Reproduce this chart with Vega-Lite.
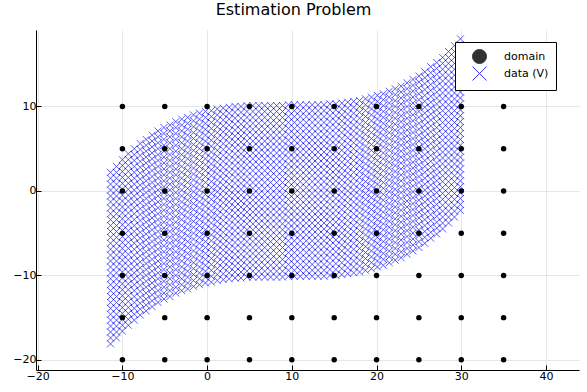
{
"$schema": "https://vega.github.io/schema/vega-lite/v6.json",
"autosize": "none",
"width": 543, "height": 340,
"padding": {"left": 36, "top": 30, "right": 8, "bottom": 22},
"title": {"text": "Estimation Problem", "fontSize": 16, "font": "DejaVu Sans", "fontWeight": "normal", "color": "black", "anchor": "middle", "frame": "group", "dx": -14, "baseline": "alphabetic", "offset": -1},
"datasets": {
"dom": [
{"x":-10,"y":-20},{"x":-5,"y":-20},{"x":0,"y":-20},{"x":5,"y":-20},{"x":10,"y":-20},{"x":15,"y":-20},{"x":20,"y":-20},{"x":25,"y":-20},{"x":30,"y":-20},{"x":35,"y":-20},
{"x":-10,"y":-15},{"x":-5,"y":-15},{"x":0,"y":-15},{"x":5,"y":-15},{"x":10,"y":-15},{"x":15,"y":-15},{"x":20,"y":-15},{"x":25,"y":-15},{"x":30,"y":-15},{"x":35,"y":-15},
{"x":-10,"y":-10},{"x":-5,"y":-10},{"x":0,"y":-10},{"x":5,"y":-10},{"x":10,"y":-10},{"x":15,"y":-10},{"x":20,"y":-10},{"x":25,"y":-10},{"x":30,"y":-10},{"x":35,"y":-10},
{"x":-10,"y":-5},{"x":-5,"y":-5},{"x":0,"y":-5},{"x":5,"y":-5},{"x":10,"y":-5},{"x":15,"y":-5},{"x":20,"y":-5},{"x":25,"y":-5},{"x":30,"y":-5},{"x":35,"y":-5},
{"x":-10,"y":0},{"x":-5,"y":0},{"x":0,"y":0},{"x":5,"y":0},{"x":10,"y":0},{"x":15,"y":0},{"x":20,"y":0},{"x":25,"y":0},{"x":30,"y":0},{"x":35,"y":0},
{"x":-10,"y":5},{"x":-5,"y":5},{"x":0,"y":5},{"x":5,"y":5},{"x":10,"y":5},{"x":15,"y":5},{"x":20,"y":5},{"x":25,"y":5},{"x":30,"y":5},{"x":35,"y":5},
{"x":-10,"y":10},{"x":-5,"y":10},{"x":0,"y":10},{"x":5,"y":10},{"x":10,"y":10},{"x":15,"y":10},{"x":20,"y":10},{"x":25,"y":10},{"x":30,"y":10},{"x":35,"y":10}
],
"v": [
{"x":-11.4,"y":-18.1},{"x":-11.4,"y":-17.4},{"x":-11.4,"y":-16.7},{"x":-11.4,"y":-16},{"x":-11.4,"y":-15.3},{"x":-11.4,"y":-14.6},{"x":-11.4,"y":-13.9},{"x":-11.4,"y":-13.2},{"x":-11.4,"y":-12.5},{"x":-11.4,"y":-11.8},{"x":-11.4,"y":-11.1},{"x":-11.4,"y":-10.4},{"x":-11.4,"y":-9.7},{"x":-11.4,"y":-9},{"x":-11.4,"y":-8.3},{"x":-11.4,"y":-7.6},{"x":-11.4,"y":-6.9},{"x":-11.4,"y":-6.2},{"x":-11.4,"y":-5.5},{"x":-11.4,"y":-4.8},{"x":-11.4,"y":-4.1},{"x":-11.4,"y":-3.4},{"x":-11.4,"y":-2.7},{"x":-11.4,"y":-2},{"x":-11.4,"y":-1.3},{"x":-11.4,"y":-0.6},{"x":-11.4,"y":0.1},{"x":-11.4,"y":0.8},{"x":-11.4,"y":1.5},{"x":-11.4,"y":2.2},
{"x":-10.7,"y":-17.4},{"x":-10.7,"y":-16.7},{"x":-10.7,"y":-16},{"x":-10.7,"y":-15.3},{"x":-10.7,"y":-14.6},{"x":-10.7,"y":-13.9},{"x":-10.7,"y":-13.2},{"x":-10.7,"y":-12.5},{"x":-10.7,"y":-11.8},{"x":-10.7,"y":-11.1},{"x":-10.7,"y":-10.4},{"x":-10.7,"y":-9.7},{"x":-10.7,"y":-9},{"x":-10.7,"y":-8.3},{"x":-10.7,"y":-7.6},{"x":-10.7,"y":-6.9},{"x":-10.7,"y":-6.2},{"x":-10.7,"y":-5.5},{"x":-10.7,"y":-4.8},{"x":-10.7,"y":-4.1},{"x":-10.7,"y":-3.4},{"x":-10.7,"y":-2.7},{"x":-10.7,"y":-2},{"x":-10.7,"y":-1.3},{"x":-10.7,"y":-0.6},{"x":-10.7,"y":0.1},{"x":-10.7,"y":0.8},{"x":-10.7,"y":1.5},{"x":-10.7,"y":2.2},{"x":-10.7,"y":2.9},
{"x":-10,"y":-16.6},{"x":-10,"y":-15.9},{"x":-10,"y":-15.2},{"x":-10,"y":-14.5},{"x":-10,"y":-13.8},{"x":-10,"y":-13.1},{"x":-10,"y":-12.4},{"x":-10,"y":-11.7},{"x":-10,"y":-11},{"x":-10,"y":-10.3},{"x":-10,"y":-9.6},{"x":-10,"y":-8.9},{"x":-10,"y":-8.2},{"x":-10,"y":-7.5},{"x":-10,"y":-6.8},{"x":-10,"y":-6.1},{"x":-10,"y":-5.4},{"x":-10,"y":-4.7},{"x":-10,"y":-4},{"x":-10,"y":-3.3},{"x":-10,"y":-2.6},{"x":-10,"y":-1.9},{"x":-10,"y":-1.2},{"x":-10,"y":-0.5},{"x":-10,"y":0.2},{"x":-10,"y":0.9},{"x":-10,"y":1.6},{"x":-10,"y":2.3},{"x":-10,"y":3},{"x":-10,"y":3.7},
{"x":-9.3,"y":-15.9},{"x":-9.3,"y":-15.2},{"x":-9.3,"y":-14.5},{"x":-9.3,"y":-13.8},{"x":-9.3,"y":-13.1},{"x":-9.3,"y":-12.4},{"x":-9.3,"y":-11.7},{"x":-9.3,"y":-11},{"x":-9.3,"y":-10.3},{"x":-9.3,"y":-9.6},{"x":-9.3,"y":-8.9},{"x":-9.3,"y":-8.2},{"x":-9.3,"y":-7.5},{"x":-9.3,"y":-6.8},{"x":-9.3,"y":-6.1},{"x":-9.3,"y":-5.4},{"x":-9.3,"y":-4.7},{"x":-9.3,"y":-4},{"x":-9.3,"y":-3.3},{"x":-9.3,"y":-2.6},{"x":-9.3,"y":-1.9},{"x":-9.3,"y":-1.2},{"x":-9.3,"y":-0.5},{"x":-9.3,"y":0.2},{"x":-9.3,"y":0.9},{"x":-9.3,"y":1.6},{"x":-9.3,"y":2.3},{"x":-9.3,"y":3},{"x":-9.3,"y":3.7},{"x":-9.3,"y":4.4},
{"x":-8.6,"y":-15.3},{"x":-8.6,"y":-14.6},{"x":-8.6,"y":-13.9},{"x":-8.6,"y":-13.2},{"x":-8.6,"y":-12.5},{"x":-8.6,"y":-11.8},{"x":-8.6,"y":-11.1},{"x":-8.6,"y":-10.4},{"x":-8.6,"y":-9.7},{"x":-8.6,"y":-9},{"x":-8.6,"y":-8.3},{"x":-8.6,"y":-7.6},{"x":-8.6,"y":-6.9},{"x":-8.6,"y":-6.2},{"x":-8.6,"y":-5.5},{"x":-8.6,"y":-4.8},{"x":-8.6,"y":-4.1},{"x":-8.6,"y":-3.4},{"x":-8.6,"y":-2.7},{"x":-8.6,"y":-2},{"x":-8.6,"y":-1.3},{"x":-8.6,"y":-0.6},{"x":-8.6,"y":0.1},{"x":-8.6,"y":0.8},{"x":-8.6,"y":1.5},{"x":-8.6,"y":2.2},{"x":-8.6,"y":2.9},{"x":-8.6,"y":3.6},{"x":-8.6,"y":4.3},{"x":-8.6,"y":5},
{"x":-7.9,"y":-14.7},{"x":-7.9,"y":-14},{"x":-7.9,"y":-13.3},{"x":-7.9,"y":-12.6},{"x":-7.9,"y":-11.9},{"x":-7.9,"y":-11.2},{"x":-7.9,"y":-10.5},{"x":-7.9,"y":-9.8},{"x":-7.9,"y":-9.1},{"x":-7.9,"y":-8.4},{"x":-7.9,"y":-7.7},{"x":-7.9,"y":-7},{"x":-7.9,"y":-6.3},{"x":-7.9,"y":-5.6},{"x":-7.9,"y":-4.9},{"x":-7.9,"y":-4.2},{"x":-7.9,"y":-3.5},{"x":-7.9,"y":-2.8},{"x":-7.9,"y":-2.1},{"x":-7.9,"y":-1.4},{"x":-7.9,"y":-0.7},{"x":-7.9,"y":0},{"x":-7.9,"y":0.7},{"x":-7.9,"y":1.4},{"x":-7.9,"y":2.1},{"x":-7.9,"y":2.8},{"x":-7.9,"y":3.5},{"x":-7.9,"y":4.2},{"x":-7.9,"y":4.9},{"x":-7.9,"y":5.6},
{"x":-7.2,"y":-14.2},{"x":-7.2,"y":-13.5},{"x":-7.2,"y":-12.8},{"x":-7.2,"y":-12.1},{"x":-7.2,"y":-11.4},{"x":-7.2,"y":-10.7},{"x":-7.2,"y":-10},{"x":-7.2,"y":-9.3},{"x":-7.2,"y":-8.6},{"x":-7.2,"y":-7.9},{"x":-7.2,"y":-7.2},{"x":-7.2,"y":-6.5},{"x":-7.2,"y":-5.8},{"x":-7.2,"y":-5.1},{"x":-7.2,"y":-4.4},{"x":-7.2,"y":-3.7},{"x":-7.2,"y":-3},{"x":-7.2,"y":-2.3},{"x":-7.2,"y":-1.6},{"x":-7.2,"y":-0.9},{"x":-7.2,"y":-0.2},{"x":-7.2,"y":0.5},{"x":-7.2,"y":1.2},{"x":-7.2,"y":1.9},{"x":-7.2,"y":2.6},{"x":-7.2,"y":3.3},{"x":-7.2,"y":4},{"x":-7.2,"y":4.7},{"x":-7.2,"y":5.4},{"x":-7.2,"y":6.1},
{"x":-6.5,"y":-13.7},{"x":-6.5,"y":-13},{"x":-6.5,"y":-12.3},{"x":-6.5,"y":-11.6},{"x":-6.5,"y":-10.9},{"x":-6.5,"y":-10.2},{"x":-6.5,"y":-9.5},{"x":-6.5,"y":-8.8},{"x":-6.5,"y":-8.1},{"x":-6.5,"y":-7.4},{"x":-6.5,"y":-6.7},{"x":-6.5,"y":-6},{"x":-6.5,"y":-5.3},{"x":-6.5,"y":-4.6},{"x":-6.5,"y":-3.9},{"x":-6.5,"y":-3.2},{"x":-6.5,"y":-2.5},{"x":-6.5,"y":-1.8},{"x":-6.5,"y":-1.1},{"x":-6.5,"y":-0.4},{"x":-6.5,"y":0.3},{"x":-6.5,"y":1},{"x":-6.5,"y":1.7},{"x":-6.5,"y":2.4},{"x":-6.5,"y":3.1},{"x":-6.5,"y":3.8},{"x":-6.5,"y":4.5},{"x":-6.5,"y":5.2},{"x":-6.5,"y":5.9},{"x":-6.5,"y":6.6},
{"x":-5.8,"y":-13.2},{"x":-5.8,"y":-12.5},{"x":-5.8,"y":-11.8},{"x":-5.8,"y":-11.1},{"x":-5.8,"y":-10.4},{"x":-5.8,"y":-9.7},{"x":-5.8,"y":-9},{"x":-5.8,"y":-8.3},{"x":-5.8,"y":-7.6},{"x":-5.8,"y":-6.9},{"x":-5.8,"y":-6.2},{"x":-5.8,"y":-5.5},{"x":-5.8,"y":-4.8},{"x":-5.8,"y":-4.1},{"x":-5.8,"y":-3.4},{"x":-5.8,"y":-2.7},{"x":-5.8,"y":-2},{"x":-5.8,"y":-1.3},{"x":-5.8,"y":-0.6},{"x":-5.8,"y":0.1},{"x":-5.8,"y":0.8},{"x":-5.8,"y":1.5},{"x":-5.8,"y":2.2},{"x":-5.8,"y":2.9},{"x":-5.8,"y":3.6},{"x":-5.8,"y":4.3},{"x":-5.8,"y":5},{"x":-5.8,"y":5.7},{"x":-5.8,"y":6.4},{"x":-5.8,"y":7.1},
{"x":-5.1,"y":-12.8},{"x":-5.1,"y":-12.1},{"x":-5.1,"y":-11.4},{"x":-5.1,"y":-10.7},{"x":-5.1,"y":-10},{"x":-5.1,"y":-9.3},{"x":-5.1,"y":-8.6},{"x":-5.1,"y":-7.9},{"x":-5.1,"y":-7.2},{"x":-5.1,"y":-6.5},{"x":-5.1,"y":-5.8},{"x":-5.1,"y":-5.1},{"x":-5.1,"y":-4.4},{"x":-5.1,"y":-3.7},{"x":-5.1,"y":-3},{"x":-5.1,"y":-2.3},{"x":-5.1,"y":-1.6},{"x":-5.1,"y":-0.9},{"x":-5.1,"y":-0.2},{"x":-5.1,"y":0.5},{"x":-5.1,"y":1.2},{"x":-5.1,"y":1.9},{"x":-5.1,"y":2.6},{"x":-5.1,"y":3.3},{"x":-5.1,"y":4},{"x":-5.1,"y":4.7},{"x":-5.1,"y":5.4},{"x":-5.1,"y":6.1},{"x":-5.1,"y":6.8},{"x":-5.1,"y":7.5},
{"x":-4.4,"y":-12.5},{"x":-4.4,"y":-11.8},{"x":-4.4,"y":-11.1},{"x":-4.4,"y":-10.4},{"x":-4.4,"y":-9.7},{"x":-4.4,"y":-9},{"x":-4.4,"y":-8.3},{"x":-4.4,"y":-7.6},{"x":-4.4,"y":-6.9},{"x":-4.4,"y":-6.2},{"x":-4.4,"y":-5.5},{"x":-4.4,"y":-4.8},{"x":-4.4,"y":-4.1},{"x":-4.4,"y":-3.4},{"x":-4.4,"y":-2.7},{"x":-4.4,"y":-2},{"x":-4.4,"y":-1.3},{"x":-4.4,"y":-0.6},{"x":-4.4,"y":0.1},{"x":-4.4,"y":0.8},{"x":-4.4,"y":1.5},{"x":-4.4,"y":2.2},{"x":-4.4,"y":2.9},{"x":-4.4,"y":3.6},{"x":-4.4,"y":4.3},{"x":-4.4,"y":5},{"x":-4.4,"y":5.7},{"x":-4.4,"y":6.4},{"x":-4.4,"y":7.1},{"x":-4.4,"y":7.8},
{"x":-3.7,"y":-12.1},{"x":-3.7,"y":-11.4},{"x":-3.7,"y":-10.7},{"x":-3.7,"y":-10},{"x":-3.7,"y":-9.3},{"x":-3.7,"y":-8.6},{"x":-3.7,"y":-7.9},{"x":-3.7,"y":-7.2},{"x":-3.7,"y":-6.5},{"x":-3.7,"y":-5.8},{"x":-3.7,"y":-5.1},{"x":-3.7,"y":-4.4},{"x":-3.7,"y":-3.7},{"x":-3.7,"y":-3},{"x":-3.7,"y":-2.3},{"x":-3.7,"y":-1.6},{"x":-3.7,"y":-0.9},{"x":-3.7,"y":-0.2},{"x":-3.7,"y":0.5},{"x":-3.7,"y":1.2},{"x":-3.7,"y":1.9},{"x":-3.7,"y":2.6},{"x":-3.7,"y":3.3},{"x":-3.7,"y":4},{"x":-3.7,"y":4.7},{"x":-3.7,"y":5.4},{"x":-3.7,"y":6.1},{"x":-3.7,"y":6.8},{"x":-3.7,"y":7.5},{"x":-3.7,"y":8.2},
{"x":-3,"y":-11.8},{"x":-3,"y":-11.1},{"x":-3,"y":-10.4},{"x":-3,"y":-9.7},{"x":-3,"y":-9},{"x":-3,"y":-8.3},{"x":-3,"y":-7.6},{"x":-3,"y":-6.9},{"x":-3,"y":-6.2},{"x":-3,"y":-5.5},{"x":-3,"y":-4.8},{"x":-3,"y":-4.1},{"x":-3,"y":-3.4},{"x":-3,"y":-2.7},{"x":-3,"y":-2},{"x":-3,"y":-1.3},{"x":-3,"y":-0.6},{"x":-3,"y":0.1},{"x":-3,"y":0.8},{"x":-3,"y":1.5},{"x":-3,"y":2.2},{"x":-3,"y":2.9},{"x":-3,"y":3.6},{"x":-3,"y":4.3},{"x":-3,"y":5},{"x":-3,"y":5.7},{"x":-3,"y":6.4},{"x":-3,"y":7.1},{"x":-3,"y":7.8},{"x":-3,"y":8.5},
{"x":-2.3,"y":-11.6},{"x":-2.3,"y":-10.9},{"x":-2.3,"y":-10.2},{"x":-2.3,"y":-9.5},{"x":-2.3,"y":-8.8},{"x":-2.3,"y":-8.1},{"x":-2.3,"y":-7.4},{"x":-2.3,"y":-6.7},{"x":-2.3,"y":-6},{"x":-2.3,"y":-5.3},{"x":-2.3,"y":-4.6},{"x":-2.3,"y":-3.9},{"x":-2.3,"y":-3.2},{"x":-2.3,"y":-2.5},{"x":-2.3,"y":-1.8},{"x":-2.3,"y":-1.1},{"x":-2.3,"y":-0.4},{"x":-2.3,"y":0.3},{"x":-2.3,"y":1},{"x":-2.3,"y":1.7},{"x":-2.3,"y":2.4},{"x":-2.3,"y":3.1},{"x":-2.3,"y":3.8},{"x":-2.3,"y":4.5},{"x":-2.3,"y":5.2},{"x":-2.3,"y":5.9},{"x":-2.3,"y":6.6},{"x":-2.3,"y":7.3},{"x":-2.3,"y":8},{"x":-2.3,"y":8.7},
{"x":-1.6,"y":-11.3},{"x":-1.6,"y":-10.6},{"x":-1.6,"y":-9.9},{"x":-1.6,"y":-9.2},{"x":-1.6,"y":-8.5},{"x":-1.6,"y":-7.8},{"x":-1.6,"y":-7.1},{"x":-1.6,"y":-6.4},{"x":-1.6,"y":-5.7},{"x":-1.6,"y":-5},{"x":-1.6,"y":-4.3},{"x":-1.6,"y":-3.6},{"x":-1.6,"y":-2.9},{"x":-1.6,"y":-2.2},{"x":-1.6,"y":-1.5},{"x":-1.6,"y":-0.8},{"x":-1.6,"y":-0.1},{"x":-1.6,"y":0.6},{"x":-1.6,"y":1.3},{"x":-1.6,"y":2},{"x":-1.6,"y":2.7},{"x":-1.6,"y":3.4},{"x":-1.6,"y":4.1},{"x":-1.6,"y":4.8},{"x":-1.6,"y":5.5},{"x":-1.6,"y":6.2},{"x":-1.6,"y":6.9},{"x":-1.6,"y":7.6},{"x":-1.6,"y":8.3},{"x":-1.6,"y":9},
{"x":-0.9,"y":-11.1},{"x":-0.9,"y":-10.4},{"x":-0.9,"y":-9.7},{"x":-0.9,"y":-9},{"x":-0.9,"y":-8.3},{"x":-0.9,"y":-7.6},{"x":-0.9,"y":-6.9},{"x":-0.9,"y":-6.2},{"x":-0.9,"y":-5.5},{"x":-0.9,"y":-4.8},{"x":-0.9,"y":-4.1},{"x":-0.9,"y":-3.4},{"x":-0.9,"y":-2.7},{"x":-0.9,"y":-2},{"x":-0.9,"y":-1.3},{"x":-0.9,"y":-0.6},{"x":-0.9,"y":0.1},{"x":-0.9,"y":0.8},{"x":-0.9,"y":1.5},{"x":-0.9,"y":2.2},{"x":-0.9,"y":2.9},{"x":-0.9,"y":3.6},{"x":-0.9,"y":4.3},{"x":-0.9,"y":5},{"x":-0.9,"y":5.7},{"x":-0.9,"y":6.4},{"x":-0.9,"y":7.1},{"x":-0.9,"y":7.8},{"x":-0.9,"y":8.5},{"x":-0.9,"y":9.2},
{"x":-0.2,"y":-10.9},{"x":-0.2,"y":-10.2},{"x":-0.2,"y":-9.5},{"x":-0.2,"y":-8.8},{"x":-0.2,"y":-8.1},{"x":-0.2,"y":-7.4},{"x":-0.2,"y":-6.7},{"x":-0.2,"y":-6},{"x":-0.2,"y":-5.3},{"x":-0.2,"y":-4.6},{"x":-0.2,"y":-3.9},{"x":-0.2,"y":-3.2},{"x":-0.2,"y":-2.5},{"x":-0.2,"y":-1.8},{"x":-0.2,"y":-1.1},{"x":-0.2,"y":-0.4},{"x":-0.2,"y":0.3},{"x":-0.2,"y":1},{"x":-0.2,"y":1.7},{"x":-0.2,"y":2.4},{"x":-0.2,"y":3.1},{"x":-0.2,"y":3.8},{"x":-0.2,"y":4.5},{"x":-0.2,"y":5.2},{"x":-0.2,"y":5.9},{"x":-0.2,"y":6.6},{"x":-0.2,"y":7.3},{"x":-0.2,"y":8},{"x":-0.2,"y":8.7},{"x":-0.2,"y":9.4},
{"x":0.5,"y":-10.8},{"x":0.5,"y":-10.1},{"x":0.5,"y":-9.4},{"x":0.5,"y":-8.7},{"x":0.5,"y":-8},{"x":0.5,"y":-7.3},{"x":0.5,"y":-6.6},{"x":0.5,"y":-5.9},{"x":0.5,"y":-5.2},{"x":0.5,"y":-4.5},{"x":0.5,"y":-3.8},{"x":0.5,"y":-3.1},{"x":0.5,"y":-2.4},{"x":0.5,"y":-1.7},{"x":0.5,"y":-1},{"x":0.5,"y":-0.3},{"x":0.5,"y":0.4},{"x":0.5,"y":1.1},{"x":0.5,"y":1.8},{"x":0.5,"y":2.5},{"x":0.5,"y":3.2},{"x":0.5,"y":3.9},{"x":0.5,"y":4.6},{"x":0.5,"y":5.3},{"x":0.5,"y":6},{"x":0.5,"y":6.7},{"x":0.5,"y":7.4},{"x":0.5,"y":8.1},{"x":0.5,"y":8.8},{"x":0.5,"y":9.5},
{"x":1.2,"y":-10.6},{"x":1.2,"y":-9.9},{"x":1.2,"y":-9.2},{"x":1.2,"y":-8.5},{"x":1.2,"y":-7.8},{"x":1.2,"y":-7.1},{"x":1.2,"y":-6.4},{"x":1.2,"y":-5.7},{"x":1.2,"y":-5},{"x":1.2,"y":-4.3},{"x":1.2,"y":-3.6},{"x":1.2,"y":-2.9},{"x":1.2,"y":-2.2},{"x":1.2,"y":-1.5},{"x":1.2,"y":-0.8},{"x":1.2,"y":-0.1},{"x":1.2,"y":0.6},{"x":1.2,"y":1.3},{"x":1.2,"y":2},{"x":1.2,"y":2.7},{"x":1.2,"y":3.4},{"x":1.2,"y":4.1},{"x":1.2,"y":4.8},{"x":1.2,"y":5.5},{"x":1.2,"y":6.2},{"x":1.2,"y":6.9},{"x":1.2,"y":7.6},{"x":1.2,"y":8.3},{"x":1.2,"y":9},{"x":1.2,"y":9.7},
{"x":1.9,"y":-10.5},{"x":1.9,"y":-9.8},{"x":1.9,"y":-9.1},{"x":1.9,"y":-8.4},{"x":1.9,"y":-7.7},{"x":1.9,"y":-7},{"x":1.9,"y":-6.3},{"x":1.9,"y":-5.6},{"x":1.9,"y":-4.9},{"x":1.9,"y":-4.2},{"x":1.9,"y":-3.5},{"x":1.9,"y":-2.8},{"x":1.9,"y":-2.1},{"x":1.9,"y":-1.4},{"x":1.9,"y":-0.7},{"x":1.9,"y":0},{"x":1.9,"y":0.7},{"x":1.9,"y":1.4},{"x":1.9,"y":2.1},{"x":1.9,"y":2.8},{"x":1.9,"y":3.5},{"x":1.9,"y":4.2},{"x":1.9,"y":4.9},{"x":1.9,"y":5.6},{"x":1.9,"y":6.3},{"x":1.9,"y":7},{"x":1.9,"y":7.7},{"x":1.9,"y":8.4},{"x":1.9,"y":9.1},{"x":1.9,"y":9.8},
{"x":2.6,"y":-10.4},{"x":2.6,"y":-9.7},{"x":2.6,"y":-9},{"x":2.6,"y":-8.3},{"x":2.6,"y":-7.6},{"x":2.6,"y":-6.9},{"x":2.6,"y":-6.2},{"x":2.6,"y":-5.5},{"x":2.6,"y":-4.8},{"x":2.6,"y":-4.1},{"x":2.6,"y":-3.4},{"x":2.6,"y":-2.7},{"x":2.6,"y":-2},{"x":2.6,"y":-1.3},{"x":2.6,"y":-0.6},{"x":2.6,"y":0.1},{"x":2.6,"y":0.8},{"x":2.6,"y":1.5},{"x":2.6,"y":2.2},{"x":2.6,"y":2.9},{"x":2.6,"y":3.6},{"x":2.6,"y":4.3},{"x":2.6,"y":5},{"x":2.6,"y":5.7},{"x":2.6,"y":6.4},{"x":2.6,"y":7.1},{"x":2.6,"y":7.8},{"x":2.6,"y":8.5},{"x":2.6,"y":9.2},{"x":2.6,"y":9.9},
{"x":3.3,"y":-10.3},{"x":3.3,"y":-9.6},{"x":3.3,"y":-8.9},{"x":3.3,"y":-8.2},{"x":3.3,"y":-7.5},{"x":3.3,"y":-6.8},{"x":3.3,"y":-6.1},{"x":3.3,"y":-5.4},{"x":3.3,"y":-4.7},{"x":3.3,"y":-4},{"x":3.3,"y":-3.3},{"x":3.3,"y":-2.6},{"x":3.3,"y":-1.9},{"x":3.3,"y":-1.2},{"x":3.3,"y":-0.5},{"x":3.3,"y":0.2},{"x":3.3,"y":0.9},{"x":3.3,"y":1.6},{"x":3.3,"y":2.3},{"x":3.3,"y":3},{"x":3.3,"y":3.7},{"x":3.3,"y":4.4},{"x":3.3,"y":5.1},{"x":3.3,"y":5.8},{"x":3.3,"y":6.5},{"x":3.3,"y":7.2},{"x":3.3,"y":7.9},{"x":3.3,"y":8.6},{"x":3.3,"y":9.3},{"x":3.3,"y":10},
{"x":4,"y":-10.3},{"x":4,"y":-9.6},{"x":4,"y":-8.9},{"x":4,"y":-8.2},{"x":4,"y":-7.5},{"x":4,"y":-6.8},{"x":4,"y":-6.1},{"x":4,"y":-5.4},{"x":4,"y":-4.7},{"x":4,"y":-4},{"x":4,"y":-3.3},{"x":4,"y":-2.6},{"x":4,"y":-1.9},{"x":4,"y":-1.2},{"x":4,"y":-0.5},{"x":4,"y":0.2},{"x":4,"y":0.9},{"x":4,"y":1.6},{"x":4,"y":2.3},{"x":4,"y":3},{"x":4,"y":3.7},{"x":4,"y":4.4},{"x":4,"y":5.1},{"x":4,"y":5.8},{"x":4,"y":6.5},{"x":4,"y":7.2},{"x":4,"y":7.9},{"x":4,"y":8.6},{"x":4,"y":9.3},{"x":4,"y":10},
{"x":4.7,"y":-10.2},{"x":4.7,"y":-9.5},{"x":4.7,"y":-8.8},{"x":4.7,"y":-8.1},{"x":4.7,"y":-7.4},{"x":4.7,"y":-6.7},{"x":4.7,"y":-6},{"x":4.7,"y":-5.3},{"x":4.7,"y":-4.6},{"x":4.7,"y":-3.9},{"x":4.7,"y":-3.2},{"x":4.7,"y":-2.5},{"x":4.7,"y":-1.8},{"x":4.7,"y":-1.1},{"x":4.7,"y":-0.4},{"x":4.7,"y":0.3},{"x":4.7,"y":1},{"x":4.7,"y":1.7},{"x":4.7,"y":2.4},{"x":4.7,"y":3.1},{"x":4.7,"y":3.8},{"x":4.7,"y":4.5},{"x":4.7,"y":5.2},{"x":4.7,"y":5.9},{"x":4.7,"y":6.6},{"x":4.7,"y":7.3},{"x":4.7,"y":8},{"x":4.7,"y":8.7},{"x":4.7,"y":9.4},{"x":4.7,"y":10.1},
{"x":5.4,"y":-10.2},{"x":5.4,"y":-9.5},{"x":5.4,"y":-8.8},{"x":5.4,"y":-8.1},{"x":5.4,"y":-7.4},{"x":5.4,"y":-6.7},{"x":5.4,"y":-6},{"x":5.4,"y":-5.3},{"x":5.4,"y":-4.6},{"x":5.4,"y":-3.9},{"x":5.4,"y":-3.2},{"x":5.4,"y":-2.5},{"x":5.4,"y":-1.8},{"x":5.4,"y":-1.1},{"x":5.4,"y":-0.4},{"x":5.4,"y":0.3},{"x":5.4,"y":1},{"x":5.4,"y":1.7},{"x":5.4,"y":2.4},{"x":5.4,"y":3.1},{"x":5.4,"y":3.8},{"x":5.4,"y":4.5},{"x":5.4,"y":5.2},{"x":5.4,"y":5.9},{"x":5.4,"y":6.6},{"x":5.4,"y":7.3},{"x":5.4,"y":8},{"x":5.4,"y":8.7},{"x":5.4,"y":9.4},{"x":5.4,"y":10.1},
{"x":6.1,"y":-10.2},{"x":6.1,"y":-9.5},{"x":6.1,"y":-8.8},{"x":6.1,"y":-8.1},{"x":6.1,"y":-7.4},{"x":6.1,"y":-6.7},{"x":6.1,"y":-6},{"x":6.1,"y":-5.3},{"x":6.1,"y":-4.6},{"x":6.1,"y":-3.9},{"x":6.1,"y":-3.2},{"x":6.1,"y":-2.5},{"x":6.1,"y":-1.8},{"x":6.1,"y":-1.1},{"x":6.1,"y":-0.4},{"x":6.1,"y":0.3},{"x":6.1,"y":1},{"x":6.1,"y":1.7},{"x":6.1,"y":2.4},{"x":6.1,"y":3.1},{"x":6.1,"y":3.8},{"x":6.1,"y":4.5},{"x":6.1,"y":5.2},{"x":6.1,"y":5.9},{"x":6.1,"y":6.6},{"x":6.1,"y":7.3},{"x":6.1,"y":8},{"x":6.1,"y":8.7},{"x":6.1,"y":9.4},{"x":6.1,"y":10.1},
{"x":6.8,"y":-10.2},{"x":6.8,"y":-9.5},{"x":6.8,"y":-8.8},{"x":6.8,"y":-8.1},{"x":6.8,"y":-7.4},{"x":6.8,"y":-6.7},{"x":6.8,"y":-6},{"x":6.8,"y":-5.3},{"x":6.8,"y":-4.6},{"x":6.8,"y":-3.9},{"x":6.8,"y":-3.2},{"x":6.8,"y":-2.5},{"x":6.8,"y":-1.8},{"x":6.8,"y":-1.1},{"x":6.8,"y":-0.4},{"x":6.8,"y":0.3},{"x":6.8,"y":1},{"x":6.8,"y":1.7},{"x":6.8,"y":2.4},{"x":6.8,"y":3.1},{"x":6.8,"y":3.8},{"x":6.8,"y":4.5},{"x":6.8,"y":5.2},{"x":6.8,"y":5.9},{"x":6.8,"y":6.6},{"x":6.8,"y":7.3},{"x":6.8,"y":8},{"x":6.8,"y":8.7},{"x":6.8,"y":9.4},{"x":6.8,"y":10.1},
{"x":7.5,"y":-10.2},{"x":7.5,"y":-9.5},{"x":7.5,"y":-8.8},{"x":7.5,"y":-8.1},{"x":7.5,"y":-7.4},{"x":7.5,"y":-6.7},{"x":7.5,"y":-6},{"x":7.5,"y":-5.3},{"x":7.5,"y":-4.6},{"x":7.5,"y":-3.9},{"x":7.5,"y":-3.2},{"x":7.5,"y":-2.5},{"x":7.5,"y":-1.8},{"x":7.5,"y":-1.1},{"x":7.5,"y":-0.4},{"x":7.5,"y":0.3},{"x":7.5,"y":1},{"x":7.5,"y":1.7},{"x":7.5,"y":2.4},{"x":7.5,"y":3.1},{"x":7.5,"y":3.8},{"x":7.5,"y":4.5},{"x":7.5,"y":5.2},{"x":7.5,"y":5.9},{"x":7.5,"y":6.6},{"x":7.5,"y":7.3},{"x":7.5,"y":8},{"x":7.5,"y":8.7},{"x":7.5,"y":9.4},{"x":7.5,"y":10.1},
{"x":8.2,"y":-10.2},{"x":8.2,"y":-9.5},{"x":8.2,"y":-8.8},{"x":8.2,"y":-8.1},{"x":8.2,"y":-7.4},{"x":8.2,"y":-6.7},{"x":8.2,"y":-6},{"x":8.2,"y":-5.3},{"x":8.2,"y":-4.6},{"x":8.2,"y":-3.9},{"x":8.2,"y":-3.2},{"x":8.2,"y":-2.5},{"x":8.2,"y":-1.8},{"x":8.2,"y":-1.1},{"x":8.2,"y":-0.4},{"x":8.2,"y":0.3},{"x":8.2,"y":1},{"x":8.2,"y":1.7},{"x":8.2,"y":2.4},{"x":8.2,"y":3.1},{"x":8.2,"y":3.8},{"x":8.2,"y":4.5},{"x":8.2,"y":5.2},{"x":8.2,"y":5.9},{"x":8.2,"y":6.6},{"x":8.2,"y":7.3},{"x":8.2,"y":8},{"x":8.2,"y":8.7},{"x":8.2,"y":9.4},{"x":8.2,"y":10.1},
{"x":8.9,"y":-10.2},{"x":8.9,"y":-9.5},{"x":8.9,"y":-8.8},{"x":8.9,"y":-8.1},{"x":8.9,"y":-7.4},{"x":8.9,"y":-6.7},{"x":8.9,"y":-6},{"x":8.9,"y":-5.3},{"x":8.9,"y":-4.6},{"x":8.9,"y":-3.9},{"x":8.9,"y":-3.2},{"x":8.9,"y":-2.5},{"x":8.9,"y":-1.8},{"x":8.9,"y":-1.1},{"x":8.9,"y":-0.4},{"x":8.9,"y":0.3},{"x":8.9,"y":1},{"x":8.9,"y":1.7},{"x":8.9,"y":2.4},{"x":8.9,"y":3.1},{"x":8.9,"y":3.8},{"x":8.9,"y":4.5},{"x":8.9,"y":5.2},{"x":8.9,"y":5.9},{"x":8.9,"y":6.6},{"x":8.9,"y":7.3},{"x":8.9,"y":8},{"x":8.9,"y":8.7},{"x":8.9,"y":9.4},{"x":8.9,"y":10.1},
{"x":9.6,"y":-10.1},{"x":9.6,"y":-9.4},{"x":9.6,"y":-8.7},{"x":9.6,"y":-8},{"x":9.6,"y":-7.3},{"x":9.6,"y":-6.6},{"x":9.6,"y":-5.9},{"x":9.6,"y":-5.2},{"x":9.6,"y":-4.5},{"x":9.6,"y":-3.8},{"x":9.6,"y":-3.1},{"x":9.6,"y":-2.4},{"x":9.6,"y":-1.7},{"x":9.6,"y":-1},{"x":9.6,"y":-0.3},{"x":9.6,"y":0.4},{"x":9.6,"y":1.1},{"x":9.6,"y":1.8},{"x":9.6,"y":2.5},{"x":9.6,"y":3.2},{"x":9.6,"y":3.9},{"x":9.6,"y":4.6},{"x":9.6,"y":5.3},{"x":9.6,"y":6},{"x":9.6,"y":6.7},{"x":9.6,"y":7.4},{"x":9.6,"y":8.1},{"x":9.6,"y":8.8},{"x":9.6,"y":9.5},{"x":9.6,"y":10.2},
{"x":10.3,"y":-10.1},{"x":10.3,"y":-9.4},{"x":10.3,"y":-8.7},{"x":10.3,"y":-8},{"x":10.3,"y":-7.3},{"x":10.3,"y":-6.6},{"x":10.3,"y":-5.9},{"x":10.3,"y":-5.2},{"x":10.3,"y":-4.5},{"x":10.3,"y":-3.8},{"x":10.3,"y":-3.1},{"x":10.3,"y":-2.4},{"x":10.3,"y":-1.7},{"x":10.3,"y":-1},{"x":10.3,"y":-0.3},{"x":10.3,"y":0.4},{"x":10.3,"y":1.1},{"x":10.3,"y":1.8},{"x":10.3,"y":2.5},{"x":10.3,"y":3.2},{"x":10.3,"y":3.9},{"x":10.3,"y":4.6},{"x":10.3,"y":5.3},{"x":10.3,"y":6},{"x":10.3,"y":6.7},{"x":10.3,"y":7.4},{"x":10.3,"y":8.1},{"x":10.3,"y":8.8},{"x":10.3,"y":9.5},{"x":10.3,"y":10.2},
{"x":11,"y":-10.1},{"x":11,"y":-9.4},{"x":11,"y":-8.7},{"x":11,"y":-8},{"x":11,"y":-7.3},{"x":11,"y":-6.6},{"x":11,"y":-5.9},{"x":11,"y":-5.2},{"x":11,"y":-4.5},{"x":11,"y":-3.8},{"x":11,"y":-3.1},{"x":11,"y":-2.4},{"x":11,"y":-1.7},{"x":11,"y":-1},{"x":11,"y":-0.3},{"x":11,"y":0.4},{"x":11,"y":1.1},{"x":11,"y":1.8},{"x":11,"y":2.5},{"x":11,"y":3.2},{"x":11,"y":3.9},{"x":11,"y":4.6},{"x":11,"y":5.3},{"x":11,"y":6},{"x":11,"y":6.7},{"x":11,"y":7.4},{"x":11,"y":8.1},{"x":11,"y":8.8},{"x":11,"y":9.5},{"x":11,"y":10.2},
{"x":11.7,"y":-10.1},{"x":11.7,"y":-9.4},{"x":11.7,"y":-8.7},{"x":11.7,"y":-8},{"x":11.7,"y":-7.3},{"x":11.7,"y":-6.6},{"x":11.7,"y":-5.9},{"x":11.7,"y":-5.2},{"x":11.7,"y":-4.5},{"x":11.7,"y":-3.8},{"x":11.7,"y":-3.1},{"x":11.7,"y":-2.4},{"x":11.7,"y":-1.7},{"x":11.7,"y":-1},{"x":11.7,"y":-0.3},{"x":11.7,"y":0.4},{"x":11.7,"y":1.1},{"x":11.7,"y":1.8},{"x":11.7,"y":2.5},{"x":11.7,"y":3.2},{"x":11.7,"y":3.9},{"x":11.7,"y":4.6},{"x":11.7,"y":5.3},{"x":11.7,"y":6},{"x":11.7,"y":6.7},{"x":11.7,"y":7.4},{"x":11.7,"y":8.1},{"x":11.7,"y":8.8},{"x":11.7,"y":9.5},{"x":11.7,"y":10.2},
{"x":12.4,"y":-10.1},{"x":12.4,"y":-9.4},{"x":12.4,"y":-8.7},{"x":12.4,"y":-8},{"x":12.4,"y":-7.3},{"x":12.4,"y":-6.6},{"x":12.4,"y":-5.9},{"x":12.4,"y":-5.2},{"x":12.4,"y":-4.5},{"x":12.4,"y":-3.8},{"x":12.4,"y":-3.1},{"x":12.4,"y":-2.4},{"x":12.4,"y":-1.7},{"x":12.4,"y":-1},{"x":12.4,"y":-0.3},{"x":12.4,"y":0.4},{"x":12.4,"y":1.1},{"x":12.4,"y":1.8},{"x":12.4,"y":2.5},{"x":12.4,"y":3.2},{"x":12.4,"y":3.9},{"x":12.4,"y":4.6},{"x":12.4,"y":5.3},{"x":12.4,"y":6},{"x":12.4,"y":6.7},{"x":12.4,"y":7.4},{"x":12.4,"y":8.1},{"x":12.4,"y":8.8},{"x":12.4,"y":9.5},{"x":12.4,"y":10.2},
{"x":13.1,"y":-10.1},{"x":13.1,"y":-9.4},{"x":13.1,"y":-8.7},{"x":13.1,"y":-8},{"x":13.1,"y":-7.3},{"x":13.1,"y":-6.6},{"x":13.1,"y":-5.9},{"x":13.1,"y":-5.2},{"x":13.1,"y":-4.5},{"x":13.1,"y":-3.8},{"x":13.1,"y":-3.1},{"x":13.1,"y":-2.4},{"x":13.1,"y":-1.7},{"x":13.1,"y":-1},{"x":13.1,"y":-0.3},{"x":13.1,"y":0.4},{"x":13.1,"y":1.1},{"x":13.1,"y":1.8},{"x":13.1,"y":2.5},{"x":13.1,"y":3.2},{"x":13.1,"y":3.9},{"x":13.1,"y":4.6},{"x":13.1,"y":5.3},{"x":13.1,"y":6},{"x":13.1,"y":6.7},{"x":13.1,"y":7.4},{"x":13.1,"y":8.1},{"x":13.1,"y":8.8},{"x":13.1,"y":9.5},{"x":13.1,"y":10.2},
{"x":13.8,"y":-10.1},{"x":13.8,"y":-9.4},{"x":13.8,"y":-8.7},{"x":13.8,"y":-8},{"x":13.8,"y":-7.3},{"x":13.8,"y":-6.6},{"x":13.8,"y":-5.9},{"x":13.8,"y":-5.2},{"x":13.8,"y":-4.5},{"x":13.8,"y":-3.8},{"x":13.8,"y":-3.1},{"x":13.8,"y":-2.4},{"x":13.8,"y":-1.7},{"x":13.8,"y":-1},{"x":13.8,"y":-0.3},{"x":13.8,"y":0.4},{"x":13.8,"y":1.1},{"x":13.8,"y":1.8},{"x":13.8,"y":2.5},{"x":13.8,"y":3.2},{"x":13.8,"y":3.9},{"x":13.8,"y":4.6},{"x":13.8,"y":5.3},{"x":13.8,"y":6},{"x":13.8,"y":6.7},{"x":13.8,"y":7.4},{"x":13.8,"y":8.1},{"x":13.8,"y":8.8},{"x":13.8,"y":9.5},{"x":13.8,"y":10.2},
{"x":14.5,"y":-10},{"x":14.5,"y":-9.3},{"x":14.5,"y":-8.6},{"x":14.5,"y":-7.9},{"x":14.5,"y":-7.2},{"x":14.5,"y":-6.5},{"x":14.5,"y":-5.8},{"x":14.5,"y":-5.1},{"x":14.5,"y":-4.4},{"x":14.5,"y":-3.7},{"x":14.5,"y":-3},{"x":14.5,"y":-2.3},{"x":14.5,"y":-1.6},{"x":14.5,"y":-0.9},{"x":14.5,"y":-0.2},{"x":14.5,"y":0.5},{"x":14.5,"y":1.2},{"x":14.5,"y":1.9},{"x":14.5,"y":2.6},{"x":14.5,"y":3.3},{"x":14.5,"y":4},{"x":14.5,"y":4.7},{"x":14.5,"y":5.4},{"x":14.5,"y":6.1},{"x":14.5,"y":6.8},{"x":14.5,"y":7.5},{"x":14.5,"y":8.2},{"x":14.5,"y":8.9},{"x":14.5,"y":9.6},{"x":14.5,"y":10.3},
{"x":15.2,"y":-10},{"x":15.2,"y":-9.3},{"x":15.2,"y":-8.6},{"x":15.2,"y":-7.9},{"x":15.2,"y":-7.2},{"x":15.2,"y":-6.5},{"x":15.2,"y":-5.8},{"x":15.2,"y":-5.1},{"x":15.2,"y":-4.4},{"x":15.2,"y":-3.7},{"x":15.2,"y":-3},{"x":15.2,"y":-2.3},{"x":15.2,"y":-1.6},{"x":15.2,"y":-0.9},{"x":15.2,"y":-0.2},{"x":15.2,"y":0.5},{"x":15.2,"y":1.2},{"x":15.2,"y":1.9},{"x":15.2,"y":2.6},{"x":15.2,"y":3.3},{"x":15.2,"y":4},{"x":15.2,"y":4.7},{"x":15.2,"y":5.4},{"x":15.2,"y":6.1},{"x":15.2,"y":6.8},{"x":15.2,"y":7.5},{"x":15.2,"y":8.2},{"x":15.2,"y":8.9},{"x":15.2,"y":9.6},{"x":15.2,"y":10.3},
{"x":15.9,"y":-9.9},{"x":15.9,"y":-9.2},{"x":15.9,"y":-8.5},{"x":15.9,"y":-7.8},{"x":15.9,"y":-7.1},{"x":15.9,"y":-6.4},{"x":15.9,"y":-5.7},{"x":15.9,"y":-5},{"x":15.9,"y":-4.3},{"x":15.9,"y":-3.6},{"x":15.9,"y":-2.9},{"x":15.9,"y":-2.2},{"x":15.9,"y":-1.5},{"x":15.9,"y":-0.8},{"x":15.9,"y":-0.1},{"x":15.9,"y":0.6},{"x":15.9,"y":1.3},{"x":15.9,"y":2},{"x":15.9,"y":2.7},{"x":15.9,"y":3.4},{"x":15.9,"y":4.1},{"x":15.9,"y":4.8},{"x":15.9,"y":5.5},{"x":15.9,"y":6.2},{"x":15.9,"y":6.9},{"x":15.9,"y":7.6},{"x":15.9,"y":8.3},{"x":15.9,"y":9},{"x":15.9,"y":9.7},{"x":15.9,"y":10.4},
{"x":16.6,"y":-9.8},{"x":16.6,"y":-9.1},{"x":16.6,"y":-8.4},{"x":16.6,"y":-7.7},{"x":16.6,"y":-7},{"x":16.6,"y":-6.3},{"x":16.6,"y":-5.6},{"x":16.6,"y":-4.9},{"x":16.6,"y":-4.2},{"x":16.6,"y":-3.5},{"x":16.6,"y":-2.8},{"x":16.6,"y":-2.1},{"x":16.6,"y":-1.4},{"x":16.6,"y":-0.7},{"x":16.6,"y":0},{"x":16.6,"y":0.7},{"x":16.6,"y":1.4},{"x":16.6,"y":2.1},{"x":16.6,"y":2.8},{"x":16.6,"y":3.5},{"x":16.6,"y":4.2},{"x":16.6,"y":4.9},{"x":16.6,"y":5.6},{"x":16.6,"y":6.3},{"x":16.6,"y":7},{"x":16.6,"y":7.7},{"x":16.6,"y":8.4},{"x":16.6,"y":9.1},{"x":16.6,"y":9.8},{"x":16.6,"y":10.5},
{"x":17.3,"y":-9.7},{"x":17.3,"y":-9},{"x":17.3,"y":-8.3},{"x":17.3,"y":-7.6},{"x":17.3,"y":-6.9},{"x":17.3,"y":-6.2},{"x":17.3,"y":-5.5},{"x":17.3,"y":-4.8},{"x":17.3,"y":-4.1},{"x":17.3,"y":-3.4},{"x":17.3,"y":-2.7},{"x":17.3,"y":-2},{"x":17.3,"y":-1.3},{"x":17.3,"y":-0.6},{"x":17.3,"y":0.1},{"x":17.3,"y":0.8},{"x":17.3,"y":1.5},{"x":17.3,"y":2.2},{"x":17.3,"y":2.9},{"x":17.3,"y":3.6},{"x":17.3,"y":4.3},{"x":17.3,"y":5},{"x":17.3,"y":5.7},{"x":17.3,"y":6.4},{"x":17.3,"y":7.1},{"x":17.3,"y":7.8},{"x":17.3,"y":8.5},{"x":17.3,"y":9.2},{"x":17.3,"y":9.9},{"x":17.3,"y":10.6},
{"x":18,"y":-9.6},{"x":18,"y":-8.9},{"x":18,"y":-8.2},{"x":18,"y":-7.5},{"x":18,"y":-6.8},{"x":18,"y":-6.1},{"x":18,"y":-5.4},{"x":18,"y":-4.7},{"x":18,"y":-4},{"x":18,"y":-3.3},{"x":18,"y":-2.6},{"x":18,"y":-1.9},{"x":18,"y":-1.2},{"x":18,"y":-0.5},{"x":18,"y":0.2},{"x":18,"y":0.9},{"x":18,"y":1.6},{"x":18,"y":2.3},{"x":18,"y":3},{"x":18,"y":3.7},{"x":18,"y":4.4},{"x":18,"y":5.1},{"x":18,"y":5.8},{"x":18,"y":6.5},{"x":18,"y":7.2},{"x":18,"y":7.9},{"x":18,"y":8.6},{"x":18,"y":9.3},{"x":18,"y":10},{"x":18,"y":10.7},
{"x":18.7,"y":-9.4},{"x":18.7,"y":-8.7},{"x":18.7,"y":-8},{"x":18.7,"y":-7.3},{"x":18.7,"y":-6.6},{"x":18.7,"y":-5.9},{"x":18.7,"y":-5.2},{"x":18.7,"y":-4.5},{"x":18.7,"y":-3.8},{"x":18.7,"y":-3.1},{"x":18.7,"y":-2.4},{"x":18.7,"y":-1.7},{"x":18.7,"y":-1},{"x":18.7,"y":-0.3},{"x":18.7,"y":0.4},{"x":18.7,"y":1.1},{"x":18.7,"y":1.8},{"x":18.7,"y":2.5},{"x":18.7,"y":3.2},{"x":18.7,"y":3.9},{"x":18.7,"y":4.6},{"x":18.7,"y":5.3},{"x":18.7,"y":6},{"x":18.7,"y":6.7},{"x":18.7,"y":7.4},{"x":18.7,"y":8.1},{"x":18.7,"y":8.8},{"x":18.7,"y":9.5},{"x":18.7,"y":10.2},{"x":18.7,"y":10.9},
{"x":19.4,"y":-9.2},{"x":19.4,"y":-8.5},{"x":19.4,"y":-7.8},{"x":19.4,"y":-7.1},{"x":19.4,"y":-6.4},{"x":19.4,"y":-5.7},{"x":19.4,"y":-5},{"x":19.4,"y":-4.3},{"x":19.4,"y":-3.6},{"x":19.4,"y":-2.9},{"x":19.4,"y":-2.2},{"x":19.4,"y":-1.5},{"x":19.4,"y":-0.8},{"x":19.4,"y":-0.1},{"x":19.4,"y":0.6},{"x":19.4,"y":1.3},{"x":19.4,"y":2},{"x":19.4,"y":2.7},{"x":19.4,"y":3.4},{"x":19.4,"y":4.1},{"x":19.4,"y":4.8},{"x":19.4,"y":5.5},{"x":19.4,"y":6.2},{"x":19.4,"y":6.9},{"x":19.4,"y":7.6},{"x":19.4,"y":8.3},{"x":19.4,"y":9},{"x":19.4,"y":9.7},{"x":19.4,"y":10.4},{"x":19.4,"y":11.1},
{"x":20.1,"y":-9},{"x":20.1,"y":-8.3},{"x":20.1,"y":-7.6},{"x":20.1,"y":-6.9},{"x":20.1,"y":-6.2},{"x":20.1,"y":-5.5},{"x":20.1,"y":-4.8},{"x":20.1,"y":-4.1},{"x":20.1,"y":-3.4},{"x":20.1,"y":-2.7},{"x":20.1,"y":-2},{"x":20.1,"y":-1.3},{"x":20.1,"y":-0.6},{"x":20.1,"y":0.1},{"x":20.1,"y":0.8},{"x":20.1,"y":1.5},{"x":20.1,"y":2.2},{"x":20.1,"y":2.9},{"x":20.1,"y":3.6},{"x":20.1,"y":4.3},{"x":20.1,"y":5},{"x":20.1,"y":5.7},{"x":20.1,"y":6.4},{"x":20.1,"y":7.1},{"x":20.1,"y":7.8},{"x":20.1,"y":8.5},{"x":20.1,"y":9.2},{"x":20.1,"y":9.9},{"x":20.1,"y":10.6},{"x":20.1,"y":11.3},
{"x":20.8,"y":-8.8},{"x":20.8,"y":-8.1},{"x":20.8,"y":-7.4},{"x":20.8,"y":-6.7},{"x":20.8,"y":-6},{"x":20.8,"y":-5.3},{"x":20.8,"y":-4.6},{"x":20.8,"y":-3.9},{"x":20.8,"y":-3.2},{"x":20.8,"y":-2.5},{"x":20.8,"y":-1.8},{"x":20.8,"y":-1.1},{"x":20.8,"y":-0.4},{"x":20.8,"y":0.3},{"x":20.8,"y":1},{"x":20.8,"y":1.7},{"x":20.8,"y":2.4},{"x":20.8,"y":3.1},{"x":20.8,"y":3.8},{"x":20.8,"y":4.5},{"x":20.8,"y":5.2},{"x":20.8,"y":5.9},{"x":20.8,"y":6.6},{"x":20.8,"y":7.3},{"x":20.8,"y":8},{"x":20.8,"y":8.7},{"x":20.8,"y":9.4},{"x":20.8,"y":10.1},{"x":20.8,"y":10.8},{"x":20.8,"y":11.5},
{"x":21.5,"y":-8.5},{"x":21.5,"y":-7.8},{"x":21.5,"y":-7.1},{"x":21.5,"y":-6.4},{"x":21.5,"y":-5.7},{"x":21.5,"y":-5},{"x":21.5,"y":-4.3},{"x":21.5,"y":-3.6},{"x":21.5,"y":-2.9},{"x":21.5,"y":-2.2},{"x":21.5,"y":-1.5},{"x":21.5,"y":-0.8},{"x":21.5,"y":-0.1},{"x":21.5,"y":0.6},{"x":21.5,"y":1.3},{"x":21.5,"y":2},{"x":21.5,"y":2.7},{"x":21.5,"y":3.4},{"x":21.5,"y":4.1},{"x":21.5,"y":4.8},{"x":21.5,"y":5.5},{"x":21.5,"y":6.2},{"x":21.5,"y":6.9},{"x":21.5,"y":7.6},{"x":21.5,"y":8.3},{"x":21.5,"y":9},{"x":21.5,"y":9.7},{"x":21.5,"y":10.4},{"x":21.5,"y":11.1},{"x":21.5,"y":11.8},
{"x":22.2,"y":-8.2},{"x":22.2,"y":-7.5},{"x":22.2,"y":-6.8},{"x":22.2,"y":-6.1},{"x":22.2,"y":-5.4},{"x":22.2,"y":-4.7},{"x":22.2,"y":-4},{"x":22.2,"y":-3.3},{"x":22.2,"y":-2.6},{"x":22.2,"y":-1.9},{"x":22.2,"y":-1.2},{"x":22.2,"y":-0.5},{"x":22.2,"y":0.2},{"x":22.2,"y":0.9},{"x":22.2,"y":1.6},{"x":22.2,"y":2.3},{"x":22.2,"y":3},{"x":22.2,"y":3.7},{"x":22.2,"y":4.4},{"x":22.2,"y":5.1},{"x":22.2,"y":5.8},{"x":22.2,"y":6.5},{"x":22.2,"y":7.2},{"x":22.2,"y":7.9},{"x":22.2,"y":8.6},{"x":22.2,"y":9.3},{"x":22.2,"y":10},{"x":22.2,"y":10.7},{"x":22.2,"y":11.4},{"x":22.2,"y":12.1},
{"x":22.9,"y":-7.9},{"x":22.9,"y":-7.2},{"x":22.9,"y":-6.5},{"x":22.9,"y":-5.8},{"x":22.9,"y":-5.1},{"x":22.9,"y":-4.4},{"x":22.9,"y":-3.7},{"x":22.9,"y":-3},{"x":22.9,"y":-2.3},{"x":22.9,"y":-1.6},{"x":22.9,"y":-0.9},{"x":22.9,"y":-0.2},{"x":22.9,"y":0.5},{"x":22.9,"y":1.2},{"x":22.9,"y":1.9},{"x":22.9,"y":2.6},{"x":22.9,"y":3.3},{"x":22.9,"y":4},{"x":22.9,"y":4.7},{"x":22.9,"y":5.4},{"x":22.9,"y":6.1},{"x":22.9,"y":6.8},{"x":22.9,"y":7.5},{"x":22.9,"y":8.2},{"x":22.9,"y":8.9},{"x":22.9,"y":9.6},{"x":22.9,"y":10.3},{"x":22.9,"y":11},{"x":22.9,"y":11.7},{"x":22.9,"y":12.4},
{"x":23.6,"y":-7.5},{"x":23.6,"y":-6.8},{"x":23.6,"y":-6.1},{"x":23.6,"y":-5.4},{"x":23.6,"y":-4.7},{"x":23.6,"y":-4},{"x":23.6,"y":-3.3},{"x":23.6,"y":-2.6},{"x":23.6,"y":-1.9},{"x":23.6,"y":-1.2},{"x":23.6,"y":-0.5},{"x":23.6,"y":0.2},{"x":23.6,"y":0.9},{"x":23.6,"y":1.6},{"x":23.6,"y":2.3},{"x":23.6,"y":3},{"x":23.6,"y":3.7},{"x":23.6,"y":4.4},{"x":23.6,"y":5.1},{"x":23.6,"y":5.8},{"x":23.6,"y":6.5},{"x":23.6,"y":7.2},{"x":23.6,"y":7.9},{"x":23.6,"y":8.6},{"x":23.6,"y":9.3},{"x":23.6,"y":10},{"x":23.6,"y":10.7},{"x":23.6,"y":11.4},{"x":23.6,"y":12.1},{"x":23.6,"y":12.8},
{"x":24.3,"y":-7.1},{"x":24.3,"y":-6.4},{"x":24.3,"y":-5.7},{"x":24.3,"y":-5},{"x":24.3,"y":-4.3},{"x":24.3,"y":-3.6},{"x":24.3,"y":-2.9},{"x":24.3,"y":-2.2},{"x":24.3,"y":-1.5},{"x":24.3,"y":-0.8},{"x":24.3,"y":-0.1},{"x":24.3,"y":0.6},{"x":24.3,"y":1.3},{"x":24.3,"y":2},{"x":24.3,"y":2.7},{"x":24.3,"y":3.4},{"x":24.3,"y":4.1},{"x":24.3,"y":4.8},{"x":24.3,"y":5.5},{"x":24.3,"y":6.2},{"x":24.3,"y":6.9},{"x":24.3,"y":7.6},{"x":24.3,"y":8.3},{"x":24.3,"y":9},{"x":24.3,"y":9.7},{"x":24.3,"y":10.4},{"x":24.3,"y":11.1},{"x":24.3,"y":11.8},{"x":24.3,"y":12.5},{"x":24.3,"y":13.2},
{"x":25,"y":-6.7},{"x":25,"y":-6},{"x":25,"y":-5.3},{"x":25,"y":-4.6},{"x":25,"y":-3.9},{"x":25,"y":-3.2},{"x":25,"y":-2.5},{"x":25,"y":-1.8},{"x":25,"y":-1.1},{"x":25,"y":-0.4},{"x":25,"y":0.3},{"x":25,"y":1},{"x":25,"y":1.7},{"x":25,"y":2.4},{"x":25,"y":3.1},{"x":25,"y":3.8},{"x":25,"y":4.5},{"x":25,"y":5.2},{"x":25,"y":5.9},{"x":25,"y":6.6},{"x":25,"y":7.3},{"x":25,"y":8},{"x":25,"y":8.7},{"x":25,"y":9.4},{"x":25,"y":10.1},{"x":25,"y":10.8},{"x":25,"y":11.5},{"x":25,"y":12.2},{"x":25,"y":12.9},{"x":25,"y":13.6},
{"x":25.7,"y":-6.2},{"x":25.7,"y":-5.5},{"x":25.7,"y":-4.8},{"x":25.7,"y":-4.1},{"x":25.7,"y":-3.4},{"x":25.7,"y":-2.7},{"x":25.7,"y":-2},{"x":25.7,"y":-1.3},{"x":25.7,"y":-0.6},{"x":25.7,"y":0.1},{"x":25.7,"y":0.8},{"x":25.7,"y":1.5},{"x":25.7,"y":2.2},{"x":25.7,"y":2.9},{"x":25.7,"y":3.6},{"x":25.7,"y":4.3},{"x":25.7,"y":5},{"x":25.7,"y":5.7},{"x":25.7,"y":6.4},{"x":25.7,"y":7.1},{"x":25.7,"y":7.8},{"x":25.7,"y":8.5},{"x":25.7,"y":9.2},{"x":25.7,"y":9.9},{"x":25.7,"y":10.6},{"x":25.7,"y":11.3},{"x":25.7,"y":12},{"x":25.7,"y":12.7},{"x":25.7,"y":13.4},{"x":25.7,"y":14.1},
{"x":26.4,"y":-5.6},{"x":26.4,"y":-4.9},{"x":26.4,"y":-4.2},{"x":26.4,"y":-3.5},{"x":26.4,"y":-2.8},{"x":26.4,"y":-2.1},{"x":26.4,"y":-1.4},{"x":26.4,"y":-0.7},{"x":26.4,"y":0},{"x":26.4,"y":0.7},{"x":26.4,"y":1.4},{"x":26.4,"y":2.1},{"x":26.4,"y":2.8},{"x":26.4,"y":3.5},{"x":26.4,"y":4.2},{"x":26.4,"y":4.9},{"x":26.4,"y":5.6},{"x":26.4,"y":6.3},{"x":26.4,"y":7},{"x":26.4,"y":7.7},{"x":26.4,"y":8.4},{"x":26.4,"y":9.1},{"x":26.4,"y":9.8},{"x":26.4,"y":10.5},{"x":26.4,"y":11.2},{"x":26.4,"y":11.9},{"x":26.4,"y":12.6},{"x":26.4,"y":13.3},{"x":26.4,"y":14},{"x":26.4,"y":14.7},
{"x":27.1,"y":-5.1},{"x":27.1,"y":-4.4},{"x":27.1,"y":-3.7},{"x":27.1,"y":-3},{"x":27.1,"y":-2.3},{"x":27.1,"y":-1.6},{"x":27.1,"y":-0.9},{"x":27.1,"y":-0.2},{"x":27.1,"y":0.5},{"x":27.1,"y":1.2},{"x":27.1,"y":1.9},{"x":27.1,"y":2.6},{"x":27.1,"y":3.3},{"x":27.1,"y":4},{"x":27.1,"y":4.7},{"x":27.1,"y":5.4},{"x":27.1,"y":6.1},{"x":27.1,"y":6.8},{"x":27.1,"y":7.5},{"x":27.1,"y":8.2},{"x":27.1,"y":8.9},{"x":27.1,"y":9.6},{"x":27.1,"y":10.3},{"x":27.1,"y":11},{"x":27.1,"y":11.7},{"x":27.1,"y":12.4},{"x":27.1,"y":13.1},{"x":27.1,"y":13.8},{"x":27.1,"y":14.5},{"x":27.1,"y":15.2},
{"x":27.8,"y":-4.5},{"x":27.8,"y":-3.8},{"x":27.8,"y":-3.1},{"x":27.8,"y":-2.4},{"x":27.8,"y":-1.7},{"x":27.8,"y":-1},{"x":27.8,"y":-0.3},{"x":27.8,"y":0.4},{"x":27.8,"y":1.1},{"x":27.8,"y":1.8},{"x":27.8,"y":2.5},{"x":27.8,"y":3.2},{"x":27.8,"y":3.9},{"x":27.8,"y":4.6},{"x":27.8,"y":5.3},{"x":27.8,"y":6},{"x":27.8,"y":6.7},{"x":27.8,"y":7.4},{"x":27.8,"y":8.1},{"x":27.8,"y":8.8},{"x":27.8,"y":9.5},{"x":27.8,"y":10.2},{"x":27.8,"y":10.9},{"x":27.8,"y":11.6},{"x":27.8,"y":12.3},{"x":27.8,"y":13},{"x":27.8,"y":13.7},{"x":27.8,"y":14.4},{"x":27.8,"y":15.1},{"x":27.8,"y":15.8},
{"x":28.5,"y":-3.8},{"x":28.5,"y":-3.1},{"x":28.5,"y":-2.4},{"x":28.5,"y":-1.7},{"x":28.5,"y":-1},{"x":28.5,"y":-0.3},{"x":28.5,"y":0.4},{"x":28.5,"y":1.1},{"x":28.5,"y":1.8},{"x":28.5,"y":2.5},{"x":28.5,"y":3.2},{"x":28.5,"y":3.9},{"x":28.5,"y":4.6},{"x":28.5,"y":5.3},{"x":28.5,"y":6},{"x":28.5,"y":6.7},{"x":28.5,"y":7.4},{"x":28.5,"y":8.1},{"x":28.5,"y":8.8},{"x":28.5,"y":9.5},{"x":28.5,"y":10.2},{"x":28.5,"y":10.9},{"x":28.5,"y":11.6},{"x":28.5,"y":12.3},{"x":28.5,"y":13},{"x":28.5,"y":13.7},{"x":28.5,"y":14.4},{"x":28.5,"y":15.1},{"x":28.5,"y":15.8},{"x":28.5,"y":16.5},
{"x":29.2,"y":-3.1},{"x":29.2,"y":-2.4},{"x":29.2,"y":-1.7},{"x":29.2,"y":-1},{"x":29.2,"y":-0.3},{"x":29.2,"y":0.4},{"x":29.2,"y":1.1},{"x":29.2,"y":1.8},{"x":29.2,"y":2.5},{"x":29.2,"y":3.2},{"x":29.2,"y":3.9},{"x":29.2,"y":4.6},{"x":29.2,"y":5.3},{"x":29.2,"y":6},{"x":29.2,"y":6.7},{"x":29.2,"y":7.4},{"x":29.2,"y":8.1},{"x":29.2,"y":8.8},{"x":29.2,"y":9.5},{"x":29.2,"y":10.2},{"x":29.2,"y":10.9},{"x":29.2,"y":11.6},{"x":29.2,"y":12.3},{"x":29.2,"y":13},{"x":29.2,"y":13.7},{"x":29.2,"y":14.4},{"x":29.2,"y":15.1},{"x":29.2,"y":15.8},{"x":29.2,"y":16.5},{"x":29.2,"y":17.2},
{"x":29.9,"y":-2.3},{"x":29.9,"y":-1.6},{"x":29.9,"y":-0.9},{"x":29.9,"y":-0.2},{"x":29.9,"y":0.5},{"x":29.9,"y":1.2},{"x":29.9,"y":1.9},{"x":29.9,"y":2.6},{"x":29.9,"y":3.3},{"x":29.9,"y":4},{"x":29.9,"y":4.7},{"x":29.9,"y":5.4},{"x":29.9,"y":6.1},{"x":29.9,"y":6.8},{"x":29.9,"y":7.5},{"x":29.9,"y":8.2},{"x":29.9,"y":8.9},{"x":29.9,"y":9.6},{"x":29.9,"y":10.3},{"x":29.9,"y":11},{"x":29.9,"y":11.7},{"x":29.9,"y":12.4},{"x":29.9,"y":13.1},{"x":29.9,"y":13.8},{"x":29.9,"y":14.5},{"x":29.9,"y":15.2},{"x":29.9,"y":15.9},{"x":29.9,"y":16.6},{"x":29.9,"y":17.3},{"x":29.9,"y":18}
]
},
"encoding": {
"x": {"field": "x", "type": "quantitative", "scale": {"domain": [-20.2, 43.9], "nice": false, "zero": false}, "axis": {"values": [-20,-10,0,10,20,30,40], "title": null}},
"y": {"field": "y", "type": "quantitative", "scale": {"domain": [-21.2, 19.05], "nice": false, "zero": false}, "axis": {"values": [-20,-10,0,10], "title": null}}
},
"layer": [
{"data": {"name": "v"}, "mark": {"type": "point", "filled": false, "size": 49, "strokeWidth": 0.8, "opacity": 0.8},
 "encoding": {
  "color": {"datum": "data (V)", "scale": {"domain": ["domain", "data (V)"], "range": ["black", "#0000ff"]},
   "legend": {"encode": {"symbols": {"update": {
     "size": {"signal": "datum.value === 'domain' ? 90 : 196"},
     "fill": {"signal": "datum.value === 'domain' ? '#000000' : 'transparent'"},
     "stroke": {"signal": "datum.value === 'domain' ? '#000000' : '#0000ff'"},
     "opacity": {"value": 1}, "fillOpacity": {"value": 1}, "strokeOpacity": {"value": 1}}}}}},
  "shape": {"datum": "data (V)", "scale": {"domain": ["domain", "data (V)"], "range": ["circle", "M-1,-1L1,1M-1,1L1,-1"]}}}},
{"data": {"name": "dom"}, "mark": {"type": "point", "filled": true, "size": 30, "opacity": 1},
 "encoding": {"color": {"datum": "domain"}, "shape": {"datum": "domain"}}}
],
"resolve": {"scale": {"color": "shared", "shape": "shared"}},
"config": {
"view": {"stroke": null},
"axis": {"domainColor": "black", "domainWidth": 1, "gridColor": "#e6e6e6", "gridWidth": 1, "tickColor": "black", "tickSize": -5, "labelFont": "DejaVu Sans", "labelFontSize": 11, "labelColor": "black", "labelPadding": 5, "labelExpr": "replace(datum.label, '-', '\u2212')"},
"legend": {
"orient": "none", "legendX": 419, "legendY": 12,
"title": null, "strokeColor": "black", "fillColor": "white", "padding": 7,
"labelFont": "DejaVu Sans", "labelFontSize": 11, "labelColor": "black", "labelOffset": 17, "symbolOffset": 10, "symbolSize": 196, "rowPadding": -3,
"symbolStrokeWidth": 1
}
}
}
